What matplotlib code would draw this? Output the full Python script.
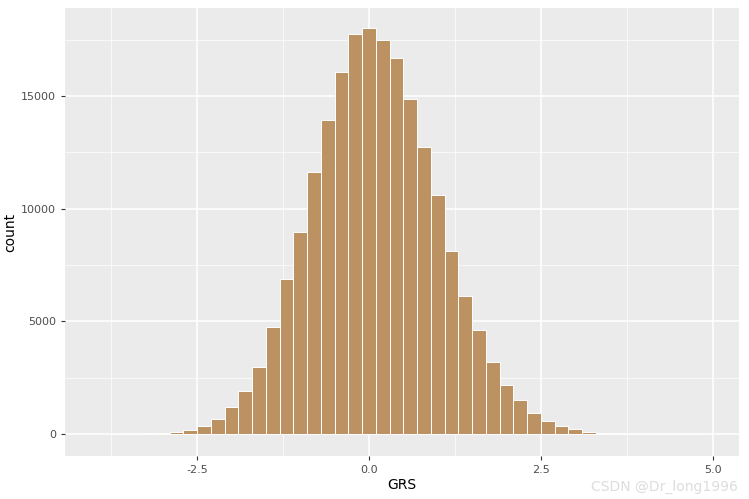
import numpy as np
import matplotlib
matplotlib.use("Agg")
import matplotlib.pyplot as plt

binwidth = 0.2
first_bin = -18
counts = [5, 10, 20, 40, 90, 180, 355, 670, 1200, 1910, 2970, 4750, 6880, 8970,
          11630, 13940, 16070, 17750, 18000, 17490, 16690, 14870, 12740, 10610,
          8120, 6120, 4620, 3200, 2170, 1510, 930, 580, 340, 200, 100, 50, 25,
          12, 6, 3, 2, 1, 1]
centers = (first_bin + np.arange(len(counts))) * binwidth
xticks = [-2.5, 0.0, 2.5, 5.0]
xticklabels = ["-2.5", "0.0", "2.5", "5.0"]
yticks = [0, 5000, 10000, 15000]

fig = plt.figure(figsize=(7.49, 4.99), dpi=100)
ax = fig.add_axes([0.0868, 0.0862, 0.8998, 0.8978])
ax.set_facecolor("#EBEBEB")
ax.bar(centers, counts, width=binwidth, color="#BC9262", edgecolor="white", linewidth=0.7, zorder=3)
ax.set_xlim(-4.42, 5.38)
ax.set_ylim(-980, 18900)
ax.set_xticks(xticks)
ax.set_xticklabels(xticklabels)
ax.set_yticks(yticks)
ax.set_xticks([-3.75, -1.25, 1.25, 3.75], minor=True)
ax.set_yticks([2500, 7500, 12500, 17500], minor=True)
ax.grid(which="major", color="white", linewidth=1.1, zorder=0)
ax.grid(which="minor", color="white", linewidth=0.5, zorder=0)
for s in ax.spines.values():
    s.set_visible(False)
ax.tick_params(which="major", colors="#333333", labelcolor="#4D4D4D", labelsize=8, length=3)
ax.tick_params(which="minor", length=0)
ax.set_xlabel("GRS", fontsize=10, labelpad=2)
ax.set_ylabel("count", fontsize=10, labelpad=3)
fig.text(0.985, 0.01, "CSDN @Dr_long1996", ha="right", va="bottom", fontsize=10, color="#DDDDDD")
fig.savefig("out.png", dpi=100)
